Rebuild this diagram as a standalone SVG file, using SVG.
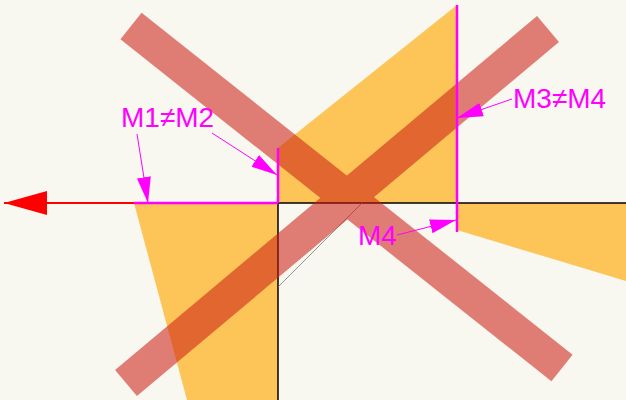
<svg xmlns="http://www.w3.org/2000/svg" width="626" height="400" viewBox="0 0 626 400">
<style>
.area{fill:#fdc458;stroke:none}
.axis{stroke:#000;stroke-width:1.5;fill:none}
.band{stroke:#cc1a10;stroke-width:34;stroke-linecap:butt;fill:none}
.dim{stroke:#ff00ff;stroke-width:2.5;fill:none}
.lead{stroke:#ff00ff;stroke-width:1;fill:none;marker-end:url(#mh)}
.lbl{font-family:"Liberation Sans",Arial,sans-serif;font-size:28px;fill:#ff00ff}
</style>
<defs>
<marker id="mh" markerUnits="userSpaceOnUse" markerWidth="26" markerHeight="14" viewBox="0 0 26 14" refX="26" refY="7" orient="auto">
<path d="M0,0 L26,7 L0,14 z" fill="#ff00ff"/>
</marker>
<marker id="rh" markerUnits="userSpaceOnUse" markerWidth="43" markerHeight="24" viewBox="0 0 43 24" refX="43" refY="12" orient="auto">
<path d="M0,0 L43,12 L0,24 z" fill="#ff0000"/>
</marker>
</defs>
<rect width="626" height="400" fill="#f8f7f0"/>
<g id="areas">
<polygon class="area" points="278,148 457,5 457,203 278,203"/>
<polygon class="area" points="134,203 278,203 278,400 187,400"/>
<polygon class="area" points="457,203 626,203 626,281 457,230"/>
</g>
<g id="axes">
<line class="axis" x1="278" y1="203" x2="626" y2="203"/>
<line class="axis" x1="278" y1="203" x2="278" y2="400"/>
<line x1="278" y1="287" x2="362" y2="203" stroke="#777" stroke-width="0.8"/>
</g>
<g id="cross" opacity="0.55">
<line class="band" x1="131" y1="26" x2="562" y2="368"/>
<line class="band" x1="126" y1="383" x2="548" y2="29"/>
</g>
<g id="connectors">
<line x1="134" y1="203" x2="4" y2="203" stroke="#ff0000" stroke-width="2" marker-end="url(#rh)"/>
<line class="dim" x1="134" y1="203" x2="278" y2="203"/>
<line class="dim" x1="278" y1="148" x2="278" y2="203"/>
<line class="dim" x1="457" y1="5" x2="457" y2="232"/>
<line class="lead" x1="137" y1="134" x2="148" y2="203"/>
<line class="lead" x1="212" y1="133" x2="277" y2="175"/>
<line class="lead" x1="512" y1="99" x2="457" y2="118"/>
<line class="lead" x1="397" y1="235" x2="456" y2="220"/>
</g>
<g id="labels">
<text class="lbl" x="121" y="127">M1≠M2</text>
<text class="lbl" x="513" y="108">M3≠M4</text>
<text class="lbl" x="358" y="245">M4</text>
</g>
</svg>
